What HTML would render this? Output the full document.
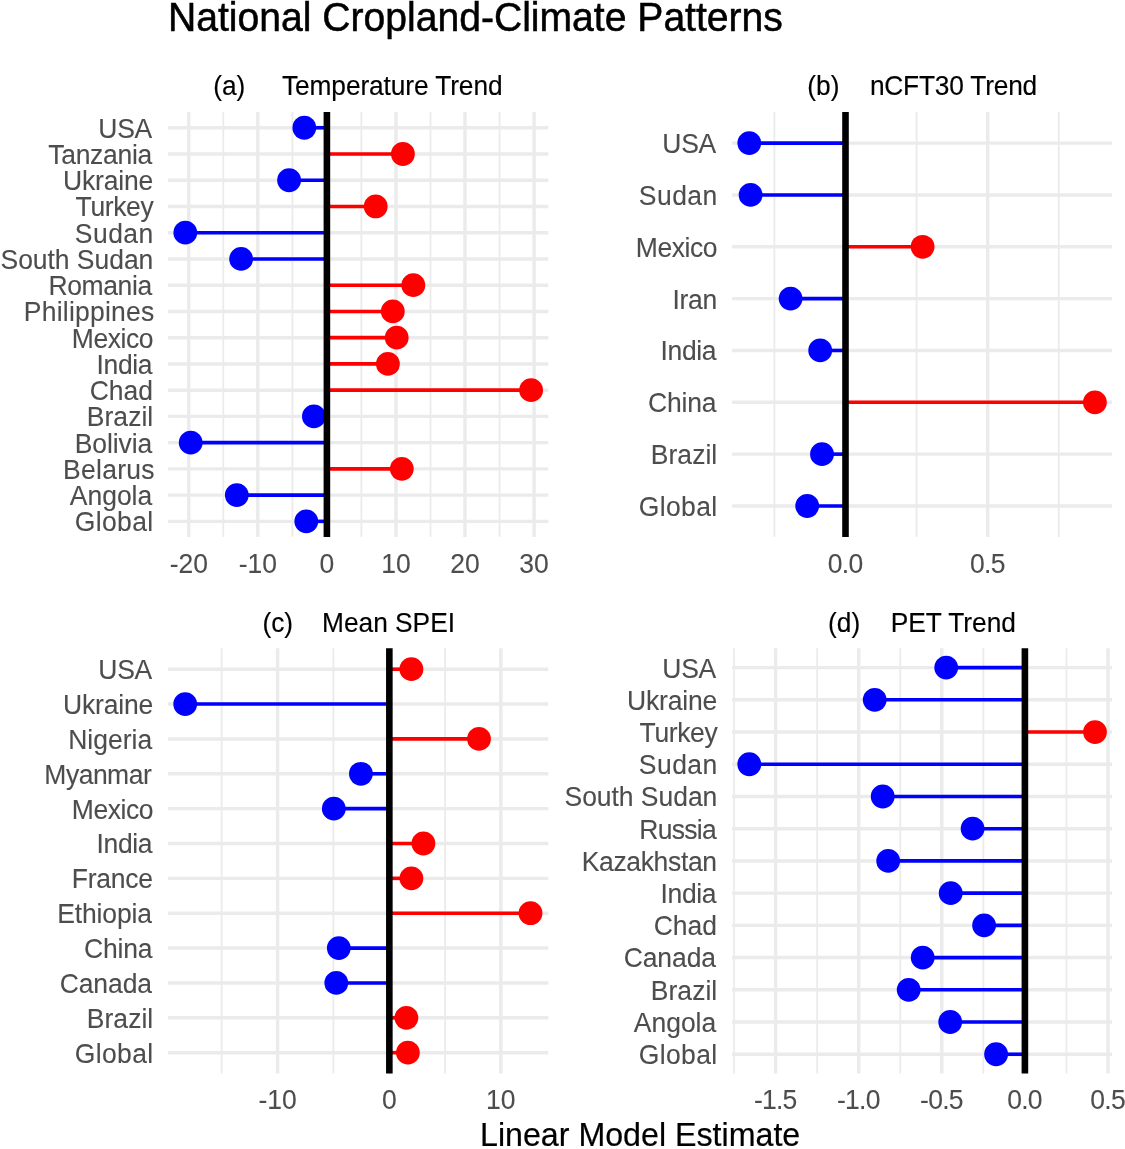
<!DOCTYPE html>
<html lang="en"><head><meta charset="utf-8"><title>National Cropland-Climate Patterns</title>
<style>html,body{margin:0;padding:0;background:#fff}body{width:1125px;height:1149px;overflow:hidden}svg{display:block}</style>
</head><body>
<svg width="1125" height="1149" viewBox="0 0 1125 1149" font-family="'Liberation Sans', sans-serif">
<rect width="1125" height="1149" fill="#ffffff"/>
<text transform="translate(168.00,30.50) scale(1,1.02)" font-size="39.1" fill="#000" text-anchor="start" stroke="#000" stroke-width="0.5">National Cropland-Climate Patterns</text>
<g><line x1="223.3" x2="223.3" y1="112.0" y2="537.1" stroke="#ebebeb" stroke-width="1.8"/>
<line x1="292.4" x2="292.4" y1="112.0" y2="537.1" stroke="#ebebeb" stroke-width="1.8"/>
<line x1="361.4" x2="361.4" y1="112.0" y2="537.1" stroke="#ebebeb" stroke-width="1.8"/>
<line x1="430.5" x2="430.5" y1="112.0" y2="537.1" stroke="#ebebeb" stroke-width="1.8"/>
<line x1="499.6" x2="499.6" y1="112.0" y2="537.1" stroke="#ebebeb" stroke-width="1.8"/>
<line x1="188.8" x2="188.8" y1="112.0" y2="537.1" stroke="#ebebeb" stroke-width="3.45"/>
<line x1="257.8" x2="257.8" y1="112.0" y2="537.1" stroke="#ebebeb" stroke-width="3.45"/>
<line x1="326.9" x2="326.9" y1="112.0" y2="537.1" stroke="#ebebeb" stroke-width="3.45"/>
<line x1="396.0" x2="396.0" y1="112.0" y2="537.1" stroke="#ebebeb" stroke-width="3.45"/>
<line x1="465.0" x2="465.0" y1="112.0" y2="537.1" stroke="#ebebeb" stroke-width="3.45"/>
<line x1="534.1" x2="534.1" y1="112.0" y2="537.1" stroke="#ebebeb" stroke-width="3.45"/>
<line x1="167.9" x2="548.3" y1="127.75" y2="127.75" stroke="#ebebeb" stroke-width="3.45"/>
<line x1="167.9" x2="548.3" y1="153.99" y2="153.99" stroke="#ebebeb" stroke-width="3.45"/>
<line x1="167.9" x2="548.3" y1="180.23" y2="180.23" stroke="#ebebeb" stroke-width="3.45"/>
<line x1="167.9" x2="548.3" y1="206.47" y2="206.47" stroke="#ebebeb" stroke-width="3.45"/>
<line x1="167.9" x2="548.3" y1="232.71" y2="232.71" stroke="#ebebeb" stroke-width="3.45"/>
<line x1="167.9" x2="548.3" y1="258.95" y2="258.95" stroke="#ebebeb" stroke-width="3.45"/>
<line x1="167.9" x2="548.3" y1="285.19" y2="285.19" stroke="#ebebeb" stroke-width="3.45"/>
<line x1="167.9" x2="548.3" y1="311.43" y2="311.43" stroke="#ebebeb" stroke-width="3.45"/>
<line x1="167.9" x2="548.3" y1="337.67" y2="337.67" stroke="#ebebeb" stroke-width="3.45"/>
<line x1="167.9" x2="548.3" y1="363.91" y2="363.91" stroke="#ebebeb" stroke-width="3.45"/>
<line x1="167.9" x2="548.3" y1="390.15" y2="390.15" stroke="#ebebeb" stroke-width="3.45"/>
<line x1="167.9" x2="548.3" y1="416.39" y2="416.39" stroke="#ebebeb" stroke-width="3.45"/>
<line x1="167.9" x2="548.3" y1="442.63" y2="442.63" stroke="#ebebeb" stroke-width="3.45"/>
<line x1="167.9" x2="548.3" y1="468.87" y2="468.87" stroke="#ebebeb" stroke-width="3.45"/>
<line x1="167.9" x2="548.3" y1="495.11" y2="495.11" stroke="#ebebeb" stroke-width="3.45"/>
<line x1="167.9" x2="548.3" y1="521.35" y2="521.35" stroke="#ebebeb" stroke-width="3.45"/>
<line x1="326.9" x2="304.3" y1="127.75" y2="127.75" stroke="#0000ff" stroke-width="3.6"/>
<line x1="326.9" x2="402.9" y1="153.99" y2="153.99" stroke="#ff0000" stroke-width="3.6"/>
<line x1="326.9" x2="289.1" y1="180.23" y2="180.23" stroke="#0000ff" stroke-width="3.6"/>
<line x1="326.9" x2="375.7" y1="206.47" y2="206.47" stroke="#ff0000" stroke-width="3.6"/>
<line x1="326.9" x2="185.3" y1="232.71" y2="232.71" stroke="#0000ff" stroke-width="3.6"/>
<line x1="326.9" x2="241.1" y1="258.95" y2="258.95" stroke="#0000ff" stroke-width="3.6"/>
<line x1="326.9" x2="413.3" y1="285.19" y2="285.19" stroke="#ff0000" stroke-width="3.6"/>
<line x1="326.9" x2="392.8" y1="311.43" y2="311.43" stroke="#ff0000" stroke-width="3.6"/>
<line x1="326.9" x2="396.7" y1="337.67" y2="337.67" stroke="#ff0000" stroke-width="3.6"/>
<line x1="326.9" x2="387.9" y1="363.91" y2="363.91" stroke="#ff0000" stroke-width="3.6"/>
<line x1="326.9" x2="531.1" y1="390.15" y2="390.15" stroke="#ff0000" stroke-width="3.6"/>
<line x1="326.9" x2="313.9" y1="416.39" y2="416.39" stroke="#0000ff" stroke-width="3.6"/>
<line x1="326.9" x2="190.7" y1="442.63" y2="442.63" stroke="#0000ff" stroke-width="3.6"/>
<line x1="326.9" x2="401.8" y1="468.87" y2="468.87" stroke="#ff0000" stroke-width="3.6"/>
<line x1="326.9" x2="236.8" y1="495.11" y2="495.11" stroke="#0000ff" stroke-width="3.6"/>
<line x1="326.9" x2="306.3" y1="521.35" y2="521.35" stroke="#0000ff" stroke-width="3.6"/>
<circle cx="304.3" cy="127.75" r="11.9" fill="#0000ff"/>
<circle cx="402.9" cy="153.99" r="11.9" fill="#ff0000"/>
<circle cx="289.1" cy="180.23" r="11.9" fill="#0000ff"/>
<circle cx="375.7" cy="206.47" r="11.9" fill="#ff0000"/>
<circle cx="185.3" cy="232.71" r="11.9" fill="#0000ff"/>
<circle cx="241.1" cy="258.95" r="11.9" fill="#0000ff"/>
<circle cx="413.3" cy="285.19" r="11.9" fill="#ff0000"/>
<circle cx="392.8" cy="311.43" r="11.9" fill="#ff0000"/>
<circle cx="396.7" cy="337.67" r="11.9" fill="#ff0000"/>
<circle cx="387.9" cy="363.91" r="11.9" fill="#ff0000"/>
<circle cx="531.1" cy="390.15" r="11.9" fill="#ff0000"/>
<circle cx="313.9" cy="416.39" r="11.9" fill="#0000ff"/>
<circle cx="190.7" cy="442.63" r="11.9" fill="#0000ff"/>
<circle cx="401.8" cy="468.87" r="11.9" fill="#ff0000"/>
<circle cx="236.8" cy="495.11" r="11.9" fill="#0000ff"/>
<circle cx="306.3" cy="521.35" r="11.9" fill="#0000ff"/>
<line x1="326.9" x2="326.9" y1="112.0" y2="537.1" stroke="#000" stroke-width="6.6"/>
<text transform="translate(151.90,137.65) scale(1,1.03)" font-size="26.5" fill="#4d4d4d" text-anchor="end" letter-spacing="-0.3" stroke="#4d4d4d" stroke-width="0.1">USA</text>
<text transform="translate(151.93,163.89) scale(1,1.03)" font-size="26.5" fill="#4d4d4d" text-anchor="end" letter-spacing="-0.296" stroke="#4d4d4d" stroke-width="0.1">Tanzania</text>
<text transform="translate(153.02,190.13) scale(1,1.03)" font-size="26.5" fill="#4d4d4d" text-anchor="end" letter-spacing="-0.179" stroke="#4d4d4d" stroke-width="0.1">Ukraine</text>
<text transform="translate(153.35,216.37) scale(1,1.03)" font-size="26.5" fill="#4d4d4d" text-anchor="end" letter-spacing="-0.376" stroke="#4d4d4d" stroke-width="0.1">Turkey</text>
<text transform="translate(153.79,242.61) scale(1,1.03)" font-size="26.5" fill="#4d4d4d" text-anchor="end" letter-spacing="0.475" stroke="#4d4d4d" stroke-width="0.1">Sudan</text>
<text transform="translate(153.28,268.85) scale(1,1.03)" font-size="26.5" fill="#4d4d4d" text-anchor="end" letter-spacing="-0.039" stroke="#4d4d4d" stroke-width="0.1">South Sudan</text>
<text transform="translate(151.86,295.09) scale(1,1.03)" font-size="26.5" fill="#4d4d4d" text-anchor="end" letter-spacing="-0.369" stroke="#4d4d4d" stroke-width="0.1">Romania</text>
<text transform="translate(154.50,321.33) scale(1,1.03)" font-size="26.5" fill="#4d4d4d" text-anchor="end" letter-spacing="0.232" stroke="#4d4d4d" stroke-width="0.1">Philippines</text>
<text transform="translate(153.06,347.57) scale(1,1.03)" font-size="26.5" fill="#4d4d4d" text-anchor="end" letter-spacing="-0.444" stroke="#4d4d4d" stroke-width="0.1">Mexico</text>
<text transform="translate(152.18,373.81) scale(1,1.03)" font-size="26.5" fill="#4d4d4d" text-anchor="end" letter-spacing="-0.352" stroke="#4d4d4d" stroke-width="0.1">India</text>
<text transform="translate(152.95,400.05) scale(1,1.03)" font-size="26.5" fill="#4d4d4d" text-anchor="end" letter-spacing="-0.006" stroke="#4d4d4d" stroke-width="0.1">Chad</text>
<text transform="translate(153.26,426.29) scale(1,1.03)" font-size="26.5" fill="#4d4d4d" text-anchor="end" letter-spacing="0.033" stroke="#4d4d4d" stroke-width="0.1">Brazil</text>
<text transform="translate(152.14,452.53) scale(1,1.03)" font-size="26.5" fill="#4d4d4d" text-anchor="end" letter-spacing="-0.085" stroke="#4d4d4d" stroke-width="0.1">Bolivia</text>
<text transform="translate(154.85,478.77) scale(1,1.03)" font-size="26.5" fill="#4d4d4d" text-anchor="end" letter-spacing="0.29" stroke="#4d4d4d" stroke-width="0.1">Belarus</text>
<text transform="translate(152.22,505.01) scale(1,1.03)" font-size="26.5" fill="#4d4d4d" text-anchor="end" letter-spacing="-0.011" stroke="#4d4d4d" stroke-width="0.1">Angola</text>
<text transform="translate(153.62,531.25) scale(1,1.03)" font-size="26.5" fill="#4d4d4d" text-anchor="end" letter-spacing="0.384" stroke="#4d4d4d" stroke-width="0.1">Global</text>
<text transform="translate(188.80,572.80) scale(1,1.03)" font-size="26.5" fill="#4d4d4d" text-anchor="middle" stroke="#4d4d4d" stroke-width="0.1">-20</text>
<text transform="translate(257.80,572.80) scale(1,1.03)" font-size="26.5" fill="#4d4d4d" text-anchor="middle" stroke="#4d4d4d" stroke-width="0.1">-10</text>
<text transform="translate(326.90,572.80) scale(1,1.03)" font-size="26.5" fill="#4d4d4d" text-anchor="middle" stroke="#4d4d4d" stroke-width="0.1">0</text>
<text transform="translate(396.00,572.80) scale(1,1.03)" font-size="26.5" fill="#4d4d4d" text-anchor="middle" stroke="#4d4d4d" stroke-width="0.1">10</text>
<text transform="translate(465.00,572.80) scale(1,1.03)" font-size="26.5" fill="#4d4d4d" text-anchor="middle" stroke="#4d4d4d" stroke-width="0.1">20</text>
<text transform="translate(534.10,572.80) scale(1,1.03)" font-size="26.5" fill="#4d4d4d" text-anchor="middle" stroke="#4d4d4d" stroke-width="0.1">30</text>
<text transform="translate(213.20,94.70) scale(1,1.03)" font-size="26.3" fill="#000" text-anchor="start" stroke="#000" stroke-width="0.15">(a)</text>
<text letter-spacing="-0.1" transform="translate(282.00,94.70) scale(1,1.03)" font-size="26.3" fill="#000" text-anchor="start" stroke="#000" stroke-width="0.15">Temperature Trend</text></g>
<g><line x1="774.4" x2="774.4" y1="112.0" y2="537.1" stroke="#ebebeb" stroke-width="1.8"/>
<line x1="916.6" x2="916.6" y1="112.0" y2="537.1" stroke="#ebebeb" stroke-width="1.8"/>
<line x1="1058.8" x2="1058.8" y1="112.0" y2="537.1" stroke="#ebebeb" stroke-width="1.8"/>
<line x1="845.5" x2="845.5" y1="112.0" y2="537.1" stroke="#ebebeb" stroke-width="3.45"/>
<line x1="987.7" x2="987.7" y1="112.0" y2="537.1" stroke="#ebebeb" stroke-width="3.45"/>
<line x1="732.1" x2="1112.1" y1="143.10" y2="143.10" stroke="#ebebeb" stroke-width="3.45"/>
<line x1="732.1" x2="1112.1" y1="194.94" y2="194.94" stroke="#ebebeb" stroke-width="3.45"/>
<line x1="732.1" x2="1112.1" y1="246.78" y2="246.78" stroke="#ebebeb" stroke-width="3.45"/>
<line x1="732.1" x2="1112.1" y1="298.62" y2="298.62" stroke="#ebebeb" stroke-width="3.45"/>
<line x1="732.1" x2="1112.1" y1="350.46" y2="350.46" stroke="#ebebeb" stroke-width="3.45"/>
<line x1="732.1" x2="1112.1" y1="402.30" y2="402.30" stroke="#ebebeb" stroke-width="3.45"/>
<line x1="732.1" x2="1112.1" y1="454.14" y2="454.14" stroke="#ebebeb" stroke-width="3.45"/>
<line x1="732.1" x2="1112.1" y1="505.98" y2="505.98" stroke="#ebebeb" stroke-width="3.45"/>
<line x1="845.5" x2="749.3" y1="143.10" y2="143.10" stroke="#0000ff" stroke-width="3.6"/>
<line x1="845.5" x2="750.6" y1="194.94" y2="194.94" stroke="#0000ff" stroke-width="3.6"/>
<line x1="845.5" x2="922.6" y1="246.78" y2="246.78" stroke="#ff0000" stroke-width="3.6"/>
<line x1="845.5" x2="790.6" y1="298.62" y2="298.62" stroke="#0000ff" stroke-width="3.6"/>
<line x1="845.5" x2="820.2" y1="350.46" y2="350.46" stroke="#0000ff" stroke-width="3.6"/>
<line x1="845.5" x2="1094.9" y1="402.30" y2="402.30" stroke="#ff0000" stroke-width="3.6"/>
<line x1="845.5" x2="822.0" y1="454.14" y2="454.14" stroke="#0000ff" stroke-width="3.6"/>
<line x1="845.5" x2="807.2" y1="505.98" y2="505.98" stroke="#0000ff" stroke-width="3.6"/>
<circle cx="749.3" cy="143.10" r="11.9" fill="#0000ff"/>
<circle cx="750.6" cy="194.94" r="11.9" fill="#0000ff"/>
<circle cx="922.6" cy="246.78" r="11.9" fill="#ff0000"/>
<circle cx="790.6" cy="298.62" r="11.9" fill="#0000ff"/>
<circle cx="820.2" cy="350.46" r="11.9" fill="#0000ff"/>
<circle cx="1094.9" cy="402.30" r="11.9" fill="#ff0000"/>
<circle cx="822.0" cy="454.14" r="11.9" fill="#0000ff"/>
<circle cx="807.2" cy="505.98" r="11.9" fill="#0000ff"/>
<line x1="845.5" x2="845.5" y1="112.0" y2="537.1" stroke="#000" stroke-width="6.6"/>
<text transform="translate(715.90,153.00) scale(1,1.03)" font-size="26.5" fill="#4d4d4d" text-anchor="end" letter-spacing="-0.3" stroke="#4d4d4d" stroke-width="0.1">USA</text>
<text transform="translate(717.79,204.84) scale(1,1.03)" font-size="26.5" fill="#4d4d4d" text-anchor="end" letter-spacing="0.475" stroke="#4d4d4d" stroke-width="0.1">Sudan</text>
<text transform="translate(717.06,256.68) scale(1,1.03)" font-size="26.5" fill="#4d4d4d" text-anchor="end" letter-spacing="-0.444" stroke="#4d4d4d" stroke-width="0.1">Mexico</text>
<text transform="translate(716.91,308.52) scale(1,1.03)" font-size="26.5" fill="#4d4d4d" text-anchor="end" letter-spacing="-0.307" stroke="#4d4d4d" stroke-width="0.1">Iran</text>
<text transform="translate(716.18,360.36) scale(1,1.03)" font-size="26.5" fill="#4d4d4d" text-anchor="end" letter-spacing="-0.352" stroke="#4d4d4d" stroke-width="0.1">India</text>
<text transform="translate(716.37,412.20) scale(1,1.03)" font-size="26.5" fill="#4d4d4d" text-anchor="end" letter-spacing="-0.162" stroke="#4d4d4d" stroke-width="0.1">China</text>
<text transform="translate(717.26,464.04) scale(1,1.03)" font-size="26.5" fill="#4d4d4d" text-anchor="end" letter-spacing="0.033" stroke="#4d4d4d" stroke-width="0.1">Brazil</text>
<text transform="translate(717.62,515.88) scale(1,1.03)" font-size="26.5" fill="#4d4d4d" text-anchor="end" letter-spacing="0.384" stroke="#4d4d4d" stroke-width="0.1">Global</text>
<text transform="translate(845.12,572.80) scale(1,1.03)" font-size="26.5" fill="#4d4d4d" text-anchor="middle" letter-spacing="-0.75" stroke="#4d4d4d" stroke-width="0.1">0.0</text>
<text transform="translate(987.32,572.80) scale(1,1.03)" font-size="26.5" fill="#4d4d4d" text-anchor="middle" letter-spacing="-0.75" stroke="#4d4d4d" stroke-width="0.1">0.5</text>
<text transform="translate(807.30,94.70) scale(1,1.03)" font-size="26.3" fill="#000" text-anchor="start" stroke="#000" stroke-width="0.15">(b)</text>
<text letter-spacing="-0.2" transform="translate(869.90,94.70) scale(1,1.03)" font-size="26.3" fill="#000" text-anchor="start" stroke="#000" stroke-width="0.15">nCFT30 Trend</text></g>
<g><line x1="221.65" x2="221.65" y1="648.3" y2="1073.6" stroke="#ebebeb" stroke-width="1.8"/>
<line x1="333.4" x2="333.4" y1="648.3" y2="1073.6" stroke="#ebebeb" stroke-width="1.8"/>
<line x1="445.1" x2="445.1" y1="648.3" y2="1073.6" stroke="#ebebeb" stroke-width="1.8"/>
<line x1="277.6" x2="277.6" y1="648.3" y2="1073.6" stroke="#ebebeb" stroke-width="3.45"/>
<line x1="389.35" x2="389.35" y1="648.3" y2="1073.6" stroke="#ebebeb" stroke-width="3.45"/>
<line x1="500.85" x2="500.85" y1="648.3" y2="1073.6" stroke="#ebebeb" stroke-width="3.45"/>
<line x1="167.9" x2="548.3" y1="669.20" y2="669.20" stroke="#ebebeb" stroke-width="3.45"/>
<line x1="167.9" x2="548.3" y1="704.06" y2="704.06" stroke="#ebebeb" stroke-width="3.45"/>
<line x1="167.9" x2="548.3" y1="738.92" y2="738.92" stroke="#ebebeb" stroke-width="3.45"/>
<line x1="167.9" x2="548.3" y1="773.78" y2="773.78" stroke="#ebebeb" stroke-width="3.45"/>
<line x1="167.9" x2="548.3" y1="808.64" y2="808.64" stroke="#ebebeb" stroke-width="3.45"/>
<line x1="167.9" x2="548.3" y1="843.50" y2="843.50" stroke="#ebebeb" stroke-width="3.45"/>
<line x1="167.9" x2="548.3" y1="878.36" y2="878.36" stroke="#ebebeb" stroke-width="3.45"/>
<line x1="167.9" x2="548.3" y1="913.22" y2="913.22" stroke="#ebebeb" stroke-width="3.45"/>
<line x1="167.9" x2="548.3" y1="948.08" y2="948.08" stroke="#ebebeb" stroke-width="3.45"/>
<line x1="167.9" x2="548.3" y1="982.94" y2="982.94" stroke="#ebebeb" stroke-width="3.45"/>
<line x1="167.9" x2="548.3" y1="1017.80" y2="1017.80" stroke="#ebebeb" stroke-width="3.45"/>
<line x1="167.9" x2="548.3" y1="1052.66" y2="1052.66" stroke="#ebebeb" stroke-width="3.45"/>
<line x1="389.35" x2="411.4" y1="669.20" y2="669.20" stroke="#ff0000" stroke-width="3.6"/>
<line x1="389.35" x2="185.2" y1="704.06" y2="704.06" stroke="#0000ff" stroke-width="3.6"/>
<line x1="389.35" x2="479.0" y1="738.92" y2="738.92" stroke="#ff0000" stroke-width="3.6"/>
<line x1="389.35" x2="360.9" y1="773.78" y2="773.78" stroke="#0000ff" stroke-width="3.6"/>
<line x1="389.35" x2="333.8" y1="808.64" y2="808.64" stroke="#0000ff" stroke-width="3.6"/>
<line x1="389.35" x2="423.4" y1="843.50" y2="843.50" stroke="#ff0000" stroke-width="3.6"/>
<line x1="389.35" x2="411.4" y1="878.36" y2="878.36" stroke="#ff0000" stroke-width="3.6"/>
<line x1="389.35" x2="530.5" y1="913.22" y2="913.22" stroke="#ff0000" stroke-width="3.6"/>
<line x1="389.35" x2="338.8" y1="948.08" y2="948.08" stroke="#0000ff" stroke-width="3.6"/>
<line x1="389.35" x2="336.3" y1="982.94" y2="982.94" stroke="#0000ff" stroke-width="3.6"/>
<line x1="389.35" x2="406.4" y1="1017.80" y2="1017.80" stroke="#ff0000" stroke-width="3.6"/>
<line x1="389.35" x2="407.9" y1="1052.66" y2="1052.66" stroke="#ff0000" stroke-width="3.6"/>
<circle cx="411.4" cy="669.20" r="11.9" fill="#ff0000"/>
<circle cx="185.2" cy="704.06" r="11.9" fill="#0000ff"/>
<circle cx="479.0" cy="738.92" r="11.9" fill="#ff0000"/>
<circle cx="360.9" cy="773.78" r="11.9" fill="#0000ff"/>
<circle cx="333.8" cy="808.64" r="11.9" fill="#0000ff"/>
<circle cx="423.4" cy="843.50" r="11.9" fill="#ff0000"/>
<circle cx="411.4" cy="878.36" r="11.9" fill="#ff0000"/>
<circle cx="530.5" cy="913.22" r="11.9" fill="#ff0000"/>
<circle cx="338.8" cy="948.08" r="11.9" fill="#0000ff"/>
<circle cx="336.3" cy="982.94" r="11.9" fill="#0000ff"/>
<circle cx="406.4" cy="1017.80" r="11.9" fill="#ff0000"/>
<circle cx="407.9" cy="1052.66" r="11.9" fill="#ff0000"/>
<line x1="389.35" x2="389.35" y1="648.3" y2="1073.6" stroke="#000" stroke-width="6.6"/>
<text transform="translate(151.90,679.10) scale(1,1.03)" font-size="26.5" fill="#4d4d4d" text-anchor="end" letter-spacing="-0.3" stroke="#4d4d4d" stroke-width="0.1">USA</text>
<text transform="translate(153.02,713.96) scale(1,1.03)" font-size="26.5" fill="#4d4d4d" text-anchor="end" letter-spacing="-0.179" stroke="#4d4d4d" stroke-width="0.1">Ukraine</text>
<text transform="translate(152.13,748.82) scale(1,1.03)" font-size="26.5" fill="#4d4d4d" text-anchor="end" letter-spacing="-0.002" stroke="#4d4d4d" stroke-width="0.1">Nigeria</text>
<text transform="translate(151.19,783.68) scale(1,1.03)" font-size="26.5" fill="#4d4d4d" text-anchor="end" letter-spacing="-0.511" stroke="#4d4d4d" stroke-width="0.1">Myanmar</text>
<text transform="translate(153.06,818.54) scale(1,1.03)" font-size="26.5" fill="#4d4d4d" text-anchor="end" letter-spacing="-0.444" stroke="#4d4d4d" stroke-width="0.1">Mexico</text>
<text transform="translate(152.18,853.40) scale(1,1.03)" font-size="26.5" fill="#4d4d4d" text-anchor="end" letter-spacing="-0.352" stroke="#4d4d4d" stroke-width="0.1">India</text>
<text transform="translate(152.76,888.26) scale(1,1.03)" font-size="26.5" fill="#4d4d4d" text-anchor="end" letter-spacing="-0.24" stroke="#4d4d4d" stroke-width="0.1">France</text>
<text transform="translate(151.89,923.12) scale(1,1.03)" font-size="26.5" fill="#4d4d4d" text-anchor="end" letter-spacing="-0.142" stroke="#4d4d4d" stroke-width="0.1">Ethiopia</text>
<text transform="translate(152.37,957.98) scale(1,1.03)" font-size="26.5" fill="#4d4d4d" text-anchor="end" letter-spacing="-0.162" stroke="#4d4d4d" stroke-width="0.1">China</text>
<text transform="translate(151.93,992.84) scale(1,1.03)" font-size="26.5" fill="#4d4d4d" text-anchor="end" letter-spacing="-0.094" stroke="#4d4d4d" stroke-width="0.1">Canada</text>
<text transform="translate(153.26,1027.70) scale(1,1.03)" font-size="26.5" fill="#4d4d4d" text-anchor="end" letter-spacing="0.033" stroke="#4d4d4d" stroke-width="0.1">Brazil</text>
<text transform="translate(153.62,1062.56) scale(1,1.03)" font-size="26.5" fill="#4d4d4d" text-anchor="end" letter-spacing="0.384" stroke="#4d4d4d" stroke-width="0.1">Global</text>
<text transform="translate(277.60,1108.80) scale(1,1.03)" font-size="26.5" fill="#4d4d4d" text-anchor="middle" stroke="#4d4d4d" stroke-width="0.1">-10</text>
<text transform="translate(389.35,1108.80) scale(1,1.03)" font-size="26.5" fill="#4d4d4d" text-anchor="middle" stroke="#4d4d4d" stroke-width="0.1">0</text>
<text transform="translate(500.85,1108.80) scale(1,1.03)" font-size="26.5" fill="#4d4d4d" text-anchor="middle" stroke="#4d4d4d" stroke-width="0.1">10</text>
<text transform="translate(262.40,631.60) scale(1,1.03)" font-size="26.3" fill="#000" text-anchor="start" stroke="#000" stroke-width="0.15">(c)</text>
<text transform="translate(322.00,631.60) scale(1,1.03)" font-size="26.3" fill="#000" text-anchor="start" stroke="#000" stroke-width="0.15">Mean SPEI</text></g>
<g><line x1="734.05" x2="734.05" y1="648.3" y2="1073.6" stroke="#ebebeb" stroke-width="1.8"/>
<line x1="817.15" x2="817.15" y1="648.3" y2="1073.6" stroke="#ebebeb" stroke-width="1.8"/>
<line x1="900.25" x2="900.25" y1="648.3" y2="1073.6" stroke="#ebebeb" stroke-width="1.8"/>
<line x1="983.35" x2="983.35" y1="648.3" y2="1073.6" stroke="#ebebeb" stroke-width="1.8"/>
<line x1="1066.45" x2="1066.45" y1="648.3" y2="1073.6" stroke="#ebebeb" stroke-width="1.8"/>
<line x1="775.6" x2="775.6" y1="648.3" y2="1073.6" stroke="#ebebeb" stroke-width="3.45"/>
<line x1="858.7" x2="858.7" y1="648.3" y2="1073.6" stroke="#ebebeb" stroke-width="3.45"/>
<line x1="941.8" x2="941.8" y1="648.3" y2="1073.6" stroke="#ebebeb" stroke-width="3.45"/>
<line x1="1024.9" x2="1024.9" y1="648.3" y2="1073.6" stroke="#ebebeb" stroke-width="3.45"/>
<line x1="1108.0" x2="1108.0" y1="648.3" y2="1073.6" stroke="#ebebeb" stroke-width="3.45"/>
<line x1="732.1" x2="1112.0" y1="667.60" y2="667.60" stroke="#ebebeb" stroke-width="3.45"/>
<line x1="732.1" x2="1112.0" y1="699.82" y2="699.82" stroke="#ebebeb" stroke-width="3.45"/>
<line x1="732.1" x2="1112.0" y1="732.04" y2="732.04" stroke="#ebebeb" stroke-width="3.45"/>
<line x1="732.1" x2="1112.0" y1="764.26" y2="764.26" stroke="#ebebeb" stroke-width="3.45"/>
<line x1="732.1" x2="1112.0" y1="796.48" y2="796.48" stroke="#ebebeb" stroke-width="3.45"/>
<line x1="732.1" x2="1112.0" y1="828.70" y2="828.70" stroke="#ebebeb" stroke-width="3.45"/>
<line x1="732.1" x2="1112.0" y1="860.92" y2="860.92" stroke="#ebebeb" stroke-width="3.45"/>
<line x1="732.1" x2="1112.0" y1="893.14" y2="893.14" stroke="#ebebeb" stroke-width="3.45"/>
<line x1="732.1" x2="1112.0" y1="925.36" y2="925.36" stroke="#ebebeb" stroke-width="3.45"/>
<line x1="732.1" x2="1112.0" y1="957.58" y2="957.58" stroke="#ebebeb" stroke-width="3.45"/>
<line x1="732.1" x2="1112.0" y1="989.80" y2="989.80" stroke="#ebebeb" stroke-width="3.45"/>
<line x1="732.1" x2="1112.0" y1="1022.02" y2="1022.02" stroke="#ebebeb" stroke-width="3.45"/>
<line x1="732.1" x2="1112.0" y1="1054.24" y2="1054.24" stroke="#ebebeb" stroke-width="3.45"/>
<line x1="1024.9" x2="946.2" y1="667.60" y2="667.60" stroke="#0000ff" stroke-width="3.6"/>
<line x1="1024.9" x2="874.7" y1="699.82" y2="699.82" stroke="#0000ff" stroke-width="3.6"/>
<line x1="1024.9" x2="1095.0" y1="732.04" y2="732.04" stroke="#ff0000" stroke-width="3.6"/>
<line x1="1024.9" x2="749.3" y1="764.26" y2="764.26" stroke="#0000ff" stroke-width="3.6"/>
<line x1="1024.9" x2="882.7" y1="796.48" y2="796.48" stroke="#0000ff" stroke-width="3.6"/>
<line x1="1024.9" x2="972.6" y1="828.70" y2="828.70" stroke="#0000ff" stroke-width="3.6"/>
<line x1="1024.9" x2="888.2" y1="860.92" y2="860.92" stroke="#0000ff" stroke-width="3.6"/>
<line x1="1024.9" x2="950.7" y1="893.14" y2="893.14" stroke="#0000ff" stroke-width="3.6"/>
<line x1="1024.9" x2="984.1" y1="925.36" y2="925.36" stroke="#0000ff" stroke-width="3.6"/>
<line x1="1024.9" x2="922.7" y1="957.58" y2="957.58" stroke="#0000ff" stroke-width="3.6"/>
<line x1="1024.9" x2="908.7" y1="989.80" y2="989.80" stroke="#0000ff" stroke-width="3.6"/>
<line x1="1024.9" x2="950.2" y1="1022.02" y2="1022.02" stroke="#0000ff" stroke-width="3.6"/>
<line x1="1024.9" x2="996.1" y1="1054.24" y2="1054.24" stroke="#0000ff" stroke-width="3.6"/>
<circle cx="946.2" cy="667.60" r="11.9" fill="#0000ff"/>
<circle cx="874.7" cy="699.82" r="11.9" fill="#0000ff"/>
<circle cx="1095.0" cy="732.04" r="11.9" fill="#ff0000"/>
<circle cx="749.3" cy="764.26" r="11.9" fill="#0000ff"/>
<circle cx="882.7" cy="796.48" r="11.9" fill="#0000ff"/>
<circle cx="972.6" cy="828.70" r="11.9" fill="#0000ff"/>
<circle cx="888.2" cy="860.92" r="11.9" fill="#0000ff"/>
<circle cx="950.7" cy="893.14" r="11.9" fill="#0000ff"/>
<circle cx="984.1" cy="925.36" r="11.9" fill="#0000ff"/>
<circle cx="922.7" cy="957.58" r="11.9" fill="#0000ff"/>
<circle cx="908.7" cy="989.80" r="11.9" fill="#0000ff"/>
<circle cx="950.2" cy="1022.02" r="11.9" fill="#0000ff"/>
<circle cx="996.1" cy="1054.24" r="11.9" fill="#0000ff"/>
<line x1="1024.9" x2="1024.9" y1="648.3" y2="1073.6" stroke="#000" stroke-width="6.6"/>
<text transform="translate(715.90,677.50) scale(1,1.03)" font-size="26.5" fill="#4d4d4d" text-anchor="end" letter-spacing="-0.3" stroke="#4d4d4d" stroke-width="0.1">USA</text>
<text transform="translate(717.02,709.72) scale(1,1.03)" font-size="26.5" fill="#4d4d4d" text-anchor="end" letter-spacing="-0.179" stroke="#4d4d4d" stroke-width="0.1">Ukraine</text>
<text transform="translate(717.35,741.94) scale(1,1.03)" font-size="26.5" fill="#4d4d4d" text-anchor="end" letter-spacing="-0.376" stroke="#4d4d4d" stroke-width="0.1">Turkey</text>
<text transform="translate(717.79,774.16) scale(1,1.03)" font-size="26.5" fill="#4d4d4d" text-anchor="end" letter-spacing="0.475" stroke="#4d4d4d" stroke-width="0.1">Sudan</text>
<text transform="translate(717.28,806.38) scale(1,1.03)" font-size="26.5" fill="#4d4d4d" text-anchor="end" letter-spacing="-0.039" stroke="#4d4d4d" stroke-width="0.1">South Sudan</text>
<text transform="translate(716.03,838.60) scale(1,1.03)" font-size="26.5" fill="#4d4d4d" text-anchor="end" letter-spacing="-0.702" stroke="#4d4d4d" stroke-width="0.1">Russia</text>
<text transform="translate(716.66,870.82) scale(1,1.03)" font-size="26.5" fill="#4d4d4d" text-anchor="end" letter-spacing="-0.354" stroke="#4d4d4d" stroke-width="0.1">Kazakhstan</text>
<text transform="translate(716.18,903.04) scale(1,1.03)" font-size="26.5" fill="#4d4d4d" text-anchor="end" letter-spacing="-0.352" stroke="#4d4d4d" stroke-width="0.1">India</text>
<text transform="translate(716.95,935.26) scale(1,1.03)" font-size="26.5" fill="#4d4d4d" text-anchor="end" letter-spacing="-0.006" stroke="#4d4d4d" stroke-width="0.1">Chad</text>
<text transform="translate(715.93,967.48) scale(1,1.03)" font-size="26.5" fill="#4d4d4d" text-anchor="end" letter-spacing="-0.094" stroke="#4d4d4d" stroke-width="0.1">Canada</text>
<text transform="translate(717.26,999.70) scale(1,1.03)" font-size="26.5" fill="#4d4d4d" text-anchor="end" letter-spacing="0.033" stroke="#4d4d4d" stroke-width="0.1">Brazil</text>
<text transform="translate(716.22,1031.92) scale(1,1.03)" font-size="26.5" fill="#4d4d4d" text-anchor="end" letter-spacing="-0.011" stroke="#4d4d4d" stroke-width="0.1">Angola</text>
<text transform="translate(717.62,1064.14) scale(1,1.03)" font-size="26.5" fill="#4d4d4d" text-anchor="end" letter-spacing="0.384" stroke="#4d4d4d" stroke-width="0.1">Global</text>
<text transform="translate(775.22,1108.80) scale(1,1.03)" font-size="26.5" fill="#4d4d4d" text-anchor="middle" letter-spacing="-0.75" stroke="#4d4d4d" stroke-width="0.1">-1.5</text>
<text transform="translate(858.32,1108.80) scale(1,1.03)" font-size="26.5" fill="#4d4d4d" text-anchor="middle" letter-spacing="-0.75" stroke="#4d4d4d" stroke-width="0.1">-1.0</text>
<text transform="translate(941.42,1108.80) scale(1,1.03)" font-size="26.5" fill="#4d4d4d" text-anchor="middle" letter-spacing="-0.75" stroke="#4d4d4d" stroke-width="0.1">-0.5</text>
<text transform="translate(1024.52,1108.80) scale(1,1.03)" font-size="26.5" fill="#4d4d4d" text-anchor="middle" letter-spacing="-0.75" stroke="#4d4d4d" stroke-width="0.1">0.0</text>
<text transform="translate(1107.62,1108.80) scale(1,1.03)" font-size="26.5" fill="#4d4d4d" text-anchor="middle" letter-spacing="-0.75" stroke="#4d4d4d" stroke-width="0.1">0.5</text>
<text transform="translate(828.10,631.60) scale(1,1.03)" font-size="26.3" fill="#000" text-anchor="start" stroke="#000" stroke-width="0.15">(d)</text>
<text transform="translate(890.80,631.60) scale(1,1.03)" font-size="26.3" fill="#000" text-anchor="start" stroke="#000" stroke-width="0.15">PET Trend</text></g>
<text transform="translate(480.00,1145.70) scale(1,1.03)" font-size="32.2" fill="#000" text-anchor="start" stroke="#000" stroke-width="0.2">Linear Model Estimate</text>
</svg>
</body></html>
